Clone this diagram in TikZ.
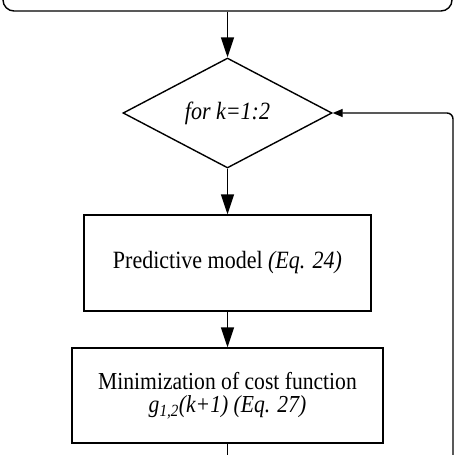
\documentclass[tikz,border=0pt]{standalone}
\usepackage{graphicx}
\usepackage{fontspec}
\setmainfont{Liberation Serif}
\usetikzlibrary{shapes.geometric,arrows.meta}
\newcommand{\vstretch}[1]{\scalebox{1}[1.13]{#1}}
\begin{document}
\begin{tikzpicture}[x=1pt,y=-1pt,
  line width=1.4pt,
  txt/.style={font=\fontsize{22}{26}\selectfont},
  box/.style={draw, rectangle, inner sep=0pt, txt},
  arr/.style={-{Triangle[length=20pt,width=13pt]}},
  farr/.style={-{Triangle[length=10pt,width=8pt]}}]
\useasboundingbox (0,0) rectangle (455,455);
\begin{scope}
\clip (0,0) rectangle (455,455);
\node[draw, rectangle, rounded corners=11pt, minimum width=449pt, minimum height=50pt, inner sep=0pt] (start) at (227.5,-14) {};
\node[draw, diamond, inner sep=0pt, minimum width=209pt, minimum height=110pt, txt] (loop) at (227.5,113) {\vstretch{\textit{for k=1:2}}};
\node[box, minimum width=287pt, minimum height=96pt] (pred) at (227.5,263) {\vstretch{Predictive model \textit{(Eq. 24)}}};
\node[box, minimum width=311pt, minimum height=95pt, align=center, font=\fontsize{21.6}{25}\selectfont] (mini) at (227.5,395.5) {\vstretch{Minimization of cost function}\\[-2pt]\vstretch{\textit{g\textsubscript{1,2}(k+1) (Eq. 27)}}};
\coordinate (fbstart) at (453,460);
\coordinate (endout) at (227.5,460);
\draw[arr] (start.south) -- (loop.north);
\draw[arr] (loop.south) -- (pred.north);
\draw[arr] (pred.south) -- (mini.north);
\draw (mini.south) -- (endout);
\draw[farr, rounded corners=6pt] (fbstart) |- (loop.east);
\end{scope}
\end{tikzpicture}
\end{document}
